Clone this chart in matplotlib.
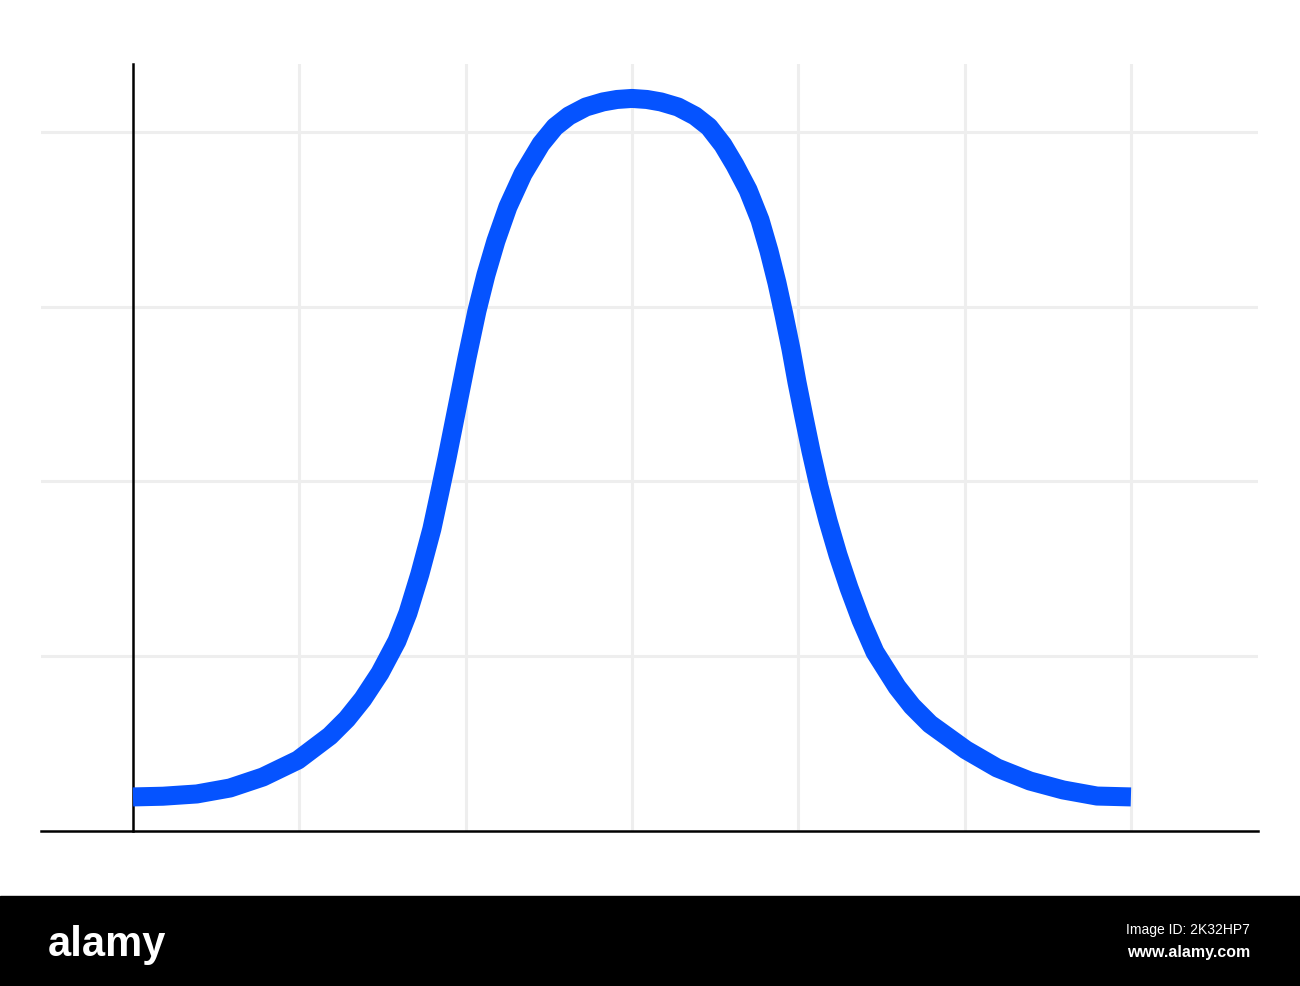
import matplotlib.pyplot as plt
from matplotlib.patches import Rectangle

# curve (x in grid units from the peak, y in grid units above the axis)
curve_x = [-3.000, -2.820, -2.616, -2.417, -2.219, -2.008, -1.816, -1.714, -1.618,
           -1.515, -1.413, -1.347, -1.275, -1.203, -1.155, -1.112, -1.076, -1.034,
           -0.992, -0.932, -0.878, -0.818, -0.746, -0.655, -0.547, -0.463, -0.379,
           -0.277, -0.174, -0.090, 0.000,
           0.090, 0.174, 0.277, 0.379, 0.463, 0.547, 0.619, 0.698, 0.770, 0.824,
           0.872, 0.914, 0.956, 0.992, 1.034, 1.076, 1.124, 1.179, 1.239, 1.305,
           1.377, 1.461, 1.594, 1.684, 1.792, 2.008, 2.195, 2.393, 2.592, 2.796,
           3.000]
curve_y = [0.195, 0.199, 0.212, 0.246, 0.309, 0.406, 0.544, 0.641, 0.755,
           0.904, 1.087, 1.247, 1.471, 1.728, 1.940, 2.134, 2.306, 2.506,
           2.707, 2.976, 3.182, 3.376, 3.571, 3.760, 3.931, 4.029, 4.092,
           4.143, 4.172, 4.186, 4.192,
           4.186, 4.172, 4.143, 4.092, 4.029, 3.926, 3.811, 3.668, 3.496, 3.319,
           3.136, 2.953, 2.758, 2.569, 2.369, 2.175, 1.974, 1.774, 1.579, 1.391,
           1.207, 1.024, 0.824, 0.715, 0.612, 0.464, 0.361, 0.286, 0.235, 0.200,
           0.195]

grid_x = [-2, -1, 0, 1, 2, 3]
grid_y = [1, 2, 3, 4]

fig = plt.figure(figsize=(13, 9.87), dpi=100)
ax = fig.add_axes([41 / 1300, 155 / 987, 1217 / 1300, 767 / 987])

ax.set_xlim(-3.553, 3.764)
ax.set_ylim(0, 4.389)

for gx in grid_x:
    ax.axvline(gx, color="#eeeeee", lw=2.2, zorder=0)
for gy in grid_y:
    ax.axhline(gy, color="#eeeeee", lw=2.2, zorder=0)

ax.plot(curve_x, curve_y, color="#0553ff", lw=13.7, solid_capstyle="butt",
        solid_joinstyle="round", zorder=3)

ax.spines["top"].set_visible(False)
ax.spines["right"].set_visible(False)
ax.spines["left"].set_position(("data", -3))
ax.spines["left"].set_linewidth(1.8)
ax.spines["bottom"].set_linewidth(1.8)
ax.set_xticks([])
ax.set_yticks([])

# watermark strip at the bottom
fig.patches.append(Rectangle((0, 0), 1, 90 / 987, transform=fig.transFigure,
                             color="black", zorder=0))
fig.text(48 / 1300, 42 / 987, "alamy", color="white", fontsize=30,
         fontweight="bold", family=["Liberation Sans", "DejaVu Sans"],
         va="center", ha="left")
fig.text(1250 / 1300, 57 / 987, "Image ID: 2K32HP7", color="white", fontsize=10,
         family=["Liberation Sans", "DejaVu Sans"], va="center", ha="right")
fig.text(1250 / 1300, 34 / 987, "www.alamy.com", color="white", fontsize=11.5,
         fontweight="bold", family=["Liberation Sans", "DejaVu Sans"],
         va="center", ha="right")

fig.savefig("out.png", dpi=100)
